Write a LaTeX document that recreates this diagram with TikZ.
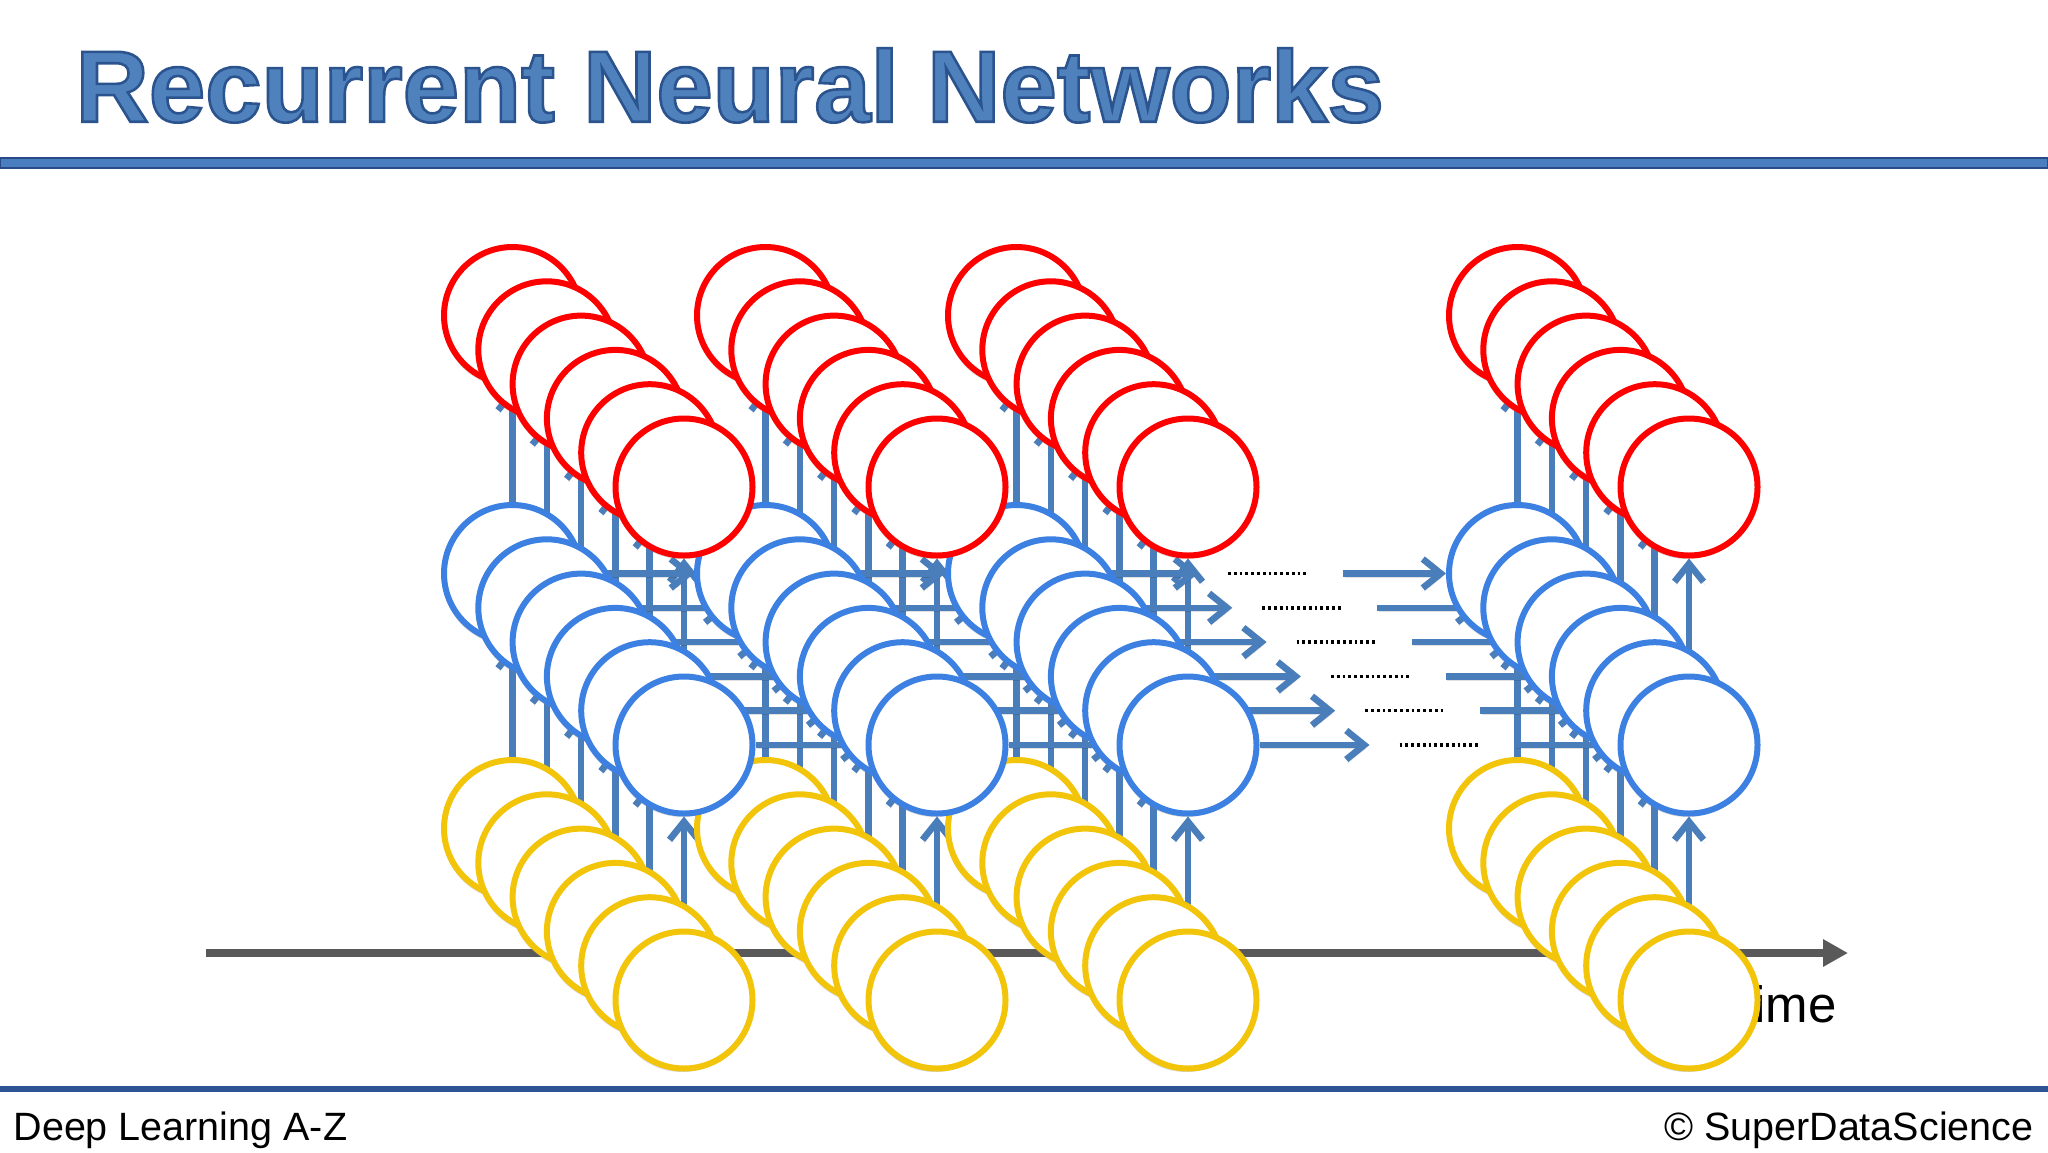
\documentclass[tikz,border=0pt]{standalone}
\usepackage{fontspec}
\setmainfont{Liberation Sans}
\usetikzlibrary{arrows.meta,calc,shadows}

\definecolor{titleblue}{RGB}{79,129,189}
\definecolor{ruleblue}{RGB}{74,126,193}
\definecolor{ruledark}{RGB}{40,75,135}
\definecolor{footblue}{RGB}{46,84,150}
\definecolor{linkblue}{RGB}{74,126,187}
\definecolor{axisgray}{RGB}{89,89,89}
\definecolor{outred}{RGB}{255,0,0}
\definecolor{hidblue}{RGB}{60,128,226}
\definecolor{inyellow}{RGB}{242,196,10}

\pgfdeclarelayer{back}
\pgfsetlayers{back,main}

\begin{document}
\begin{tikzpicture}[x=1pt,y=-1pt,>={Straight Barb[length=18pt,width=29pt]}]
  \tikzstyle{unit}=[circle,draw,line width=6pt,fill=white,minimum size=137pt,inner sep=0pt,
    drop shadow={opacity=0.3,shadow xshift=-1.5pt,shadow yshift=-3.5pt}]
  \tikzstyle{conn}=[line width=6.6pt,draw=linkblue,->,
    preaction={draw=black,opacity=0.12,transform canvas={shift={(1.5pt,-3.5pt)}}}]
  \tikzstyle{gapdots}=[line width=3.4pt,black,dash pattern=on 2.8pt off 3pt]
  \useasboundingbox (0,0) rectangle (2048,1152);

  % header and footer
  \node[anchor=base west,text=titleblue,font=\fontsize{101.5}{102}\selectfont\bfseries] (title) at (72,121.7)
    {\special{pdf:literal direct 2 Tr 2.6 w 0.17 0.33 0.56 RG}Recurrent Neural Networks\special{pdf:literal direct 0 Tr}};
  \draw[fill=ruleblue,draw=ruledark,line width=1.2pt] (0,158) rectangle (2048,168);
  \draw[line width=6pt,footblue] (0,1089) -- (2048,1089);
  \node[anchor=base west,font=\fontsize{39.5}{40}\selectfont] (course) at (10,1140) {Deep Learning A-Z};
  \node[anchor=base east,font=\fontsize{39.5}{40}\selectfont] (brand) at (2037,1140) {© SuperDataScience};

  % six units per layer, front one at the column x
  \foreach \c/\x in {1/684,2/937,3/1188,4/1689}{
    \foreach \k in {0,...,5}
      \node[unit,draw=inyellow] (in-\c-\k) at ({\x-(5-\k)*34.3},{1000-(5-\k)*34.3}) {};
  }
  \foreach \c/\x in {1/684,2/937,3/1188,4/1689}{
    \foreach \k in {0,...,5}
      \node[unit,draw=hidblue] (hid-\c-\k) at ({\x-(5-\k)*34.3},{745-(5-\k)*34.3}) {};
  }
  \foreach \c/\x in {1/684,2/937,3/1188,4/1689}{
    \foreach \k in {0,...,5}
      \node[unit,draw=outred] (out-\c-\k) at ({\x-(5-\k)*34.3},{487-(5-\k)*34.3}) {};
  }

  \begin{pgfonlayer}{back}
    \fill[white] (0,0) rectangle (2048,1152);
    % time axis
    \coordinate (t0) at (206,953);
    \coordinate (t1) at (1848,953);
    \draw[line width=8pt,axisgray,-{Triangle[length=25pt,width=26pt]}] (t0) -- (t1);
    \node[anchor=base east,font=\fontsize{51}{51}\selectfont] (timelab) at (1840,1022) {time};

    \foreach \c in {1,2,3,4}
      \foreach \k in {0,...,5}{
        \draw[conn] (in-\c-\k) -- (hid-\c-\k);
        \draw[conn] (hid-\c-\k) -- (out-\c-\k);
      }
    \foreach \c/\d in {1/2,2/3}
      \foreach \k in {0,...,5}
        \draw[conn] (hid-\c-\k) -- (hid-\d-\k);

    % gap before the last step
    \foreach \k in {0,...,5}{
      \coordinate (gap-a-\k) at ($(hid-3-\k.east)+(110,0)$);
      \coordinate (gap-b-\k) at ($(hid-3-\k.east)+(140,0)$);
      \coordinate (gap-c-\k) at ($(hid-3-\k.east)+(220,0)$);
      \coordinate (gap-d-\k) at ($(hid-3-\k.east)+(255,0)$);
      \draw[conn] (hid-3-\k) -- (gap-a-\k);
      \draw[gapdots] (gap-b-\k) -- (gap-c-\k);
      \draw[conn] (gap-d-\k) -- (hid-4-\k);
    }
  \end{pgfonlayer}
\end{tikzpicture}
\end{document}
